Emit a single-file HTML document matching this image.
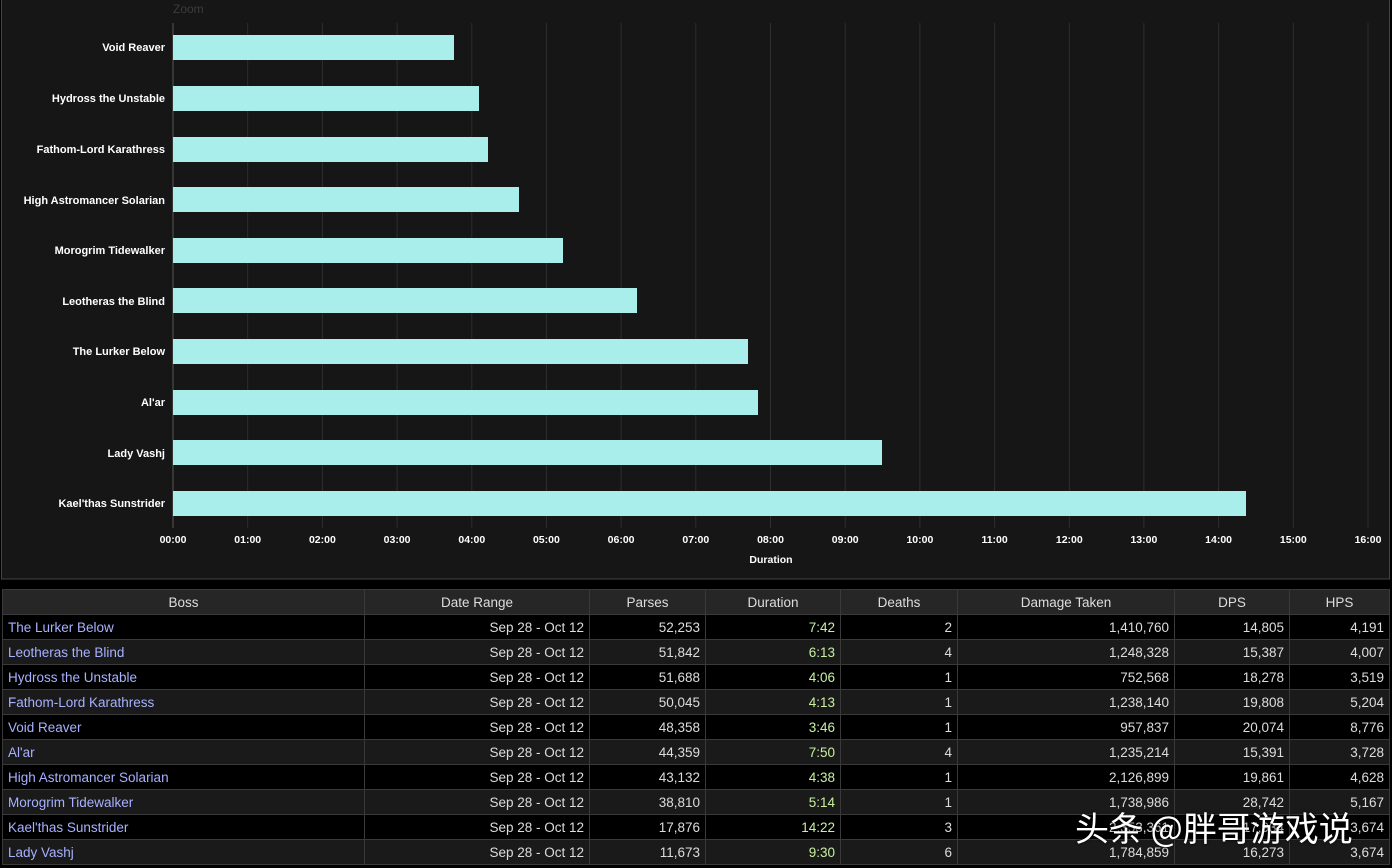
<!DOCTYPE html>
<html><head><meta charset="utf-8"><style>
body{margin:0;width:1392px;height:868px;background:#000;overflow:hidden;font-family:"Liberation Sans",Arial,sans-serif;position:relative}
.t{position:absolute;left:2px;top:589px;width:1387px;border-collapse:collapse;font-size:13.5px;color:#ddd;table-layout:fixed}
.t td,.t th{border:1px solid #3a3a3a;height:24px;padding:0 5px;text-align:right;white-space:nowrap;overflow:hidden}
.t th{background:#262626;font-weight:normal;text-align:center;color:#ddd}
.t tr:nth-child(odd) td{background:#1a1a1a}
.t td:first-child{text-align:left;color:#a7b1ff}
.t td.d{color:#c8f0a0}
.wm{position:absolute;left:1075px;top:802px;font-family:"Noto Sans CJK SC",sans-serif;font-size:34px;color:#fff;text-shadow:0 0 3px #000;font-weight:normal}
</style></head><body>
<svg width="1392" height="590" style="position:absolute;left:0;top:0" font-family="Liberation Sans, sans-serif">
<rect x="1.5" y="-2" width="1388" height="581" fill="#161616" stroke="#444"/>
<text x="173" y="13" fill="#3c3c3c" font-size="12">Zoom</text>
<g stroke="#2e2e2e">
<line x1="247.7" y1="23" x2="247.7" y2="528"/><line x1="322.4" y1="23" x2="322.4" y2="528"/><line x1="397.1" y1="23" x2="397.1" y2="528"/><line x1="471.8" y1="23" x2="471.8" y2="528"/><line x1="546.4" y1="23" x2="546.4" y2="528"/><line x1="621.1" y1="23" x2="621.1" y2="528"/><line x1="695.8" y1="23" x2="695.8" y2="528"/><line x1="770.5" y1="23" x2="770.5" y2="528"/><line x1="845.2" y1="23" x2="845.2" y2="528"/><line x1="919.9" y1="23" x2="919.9" y2="528"/><line x1="994.6" y1="23" x2="994.6" y2="528"/><line x1="1069.3" y1="23" x2="1069.3" y2="528"/><line x1="1143.9" y1="23" x2="1143.9" y2="528"/><line x1="1218.6" y1="23" x2="1218.6" y2="528"/><line x1="1293.3" y1="23" x2="1293.3" y2="528"/><line x1="1368" y1="23" x2="1368" y2="528"/>
</g>
<line x1="173" y1="23" x2="173" y2="528" stroke="#555"/>
<g fill="#aaeeec">
<rect x="173" y="35" width="281" height="25"/><rect x="173" y="86" width="306" height="25"/><rect x="173" y="137" width="315" height="25"/><rect x="173" y="187" width="346" height="25"/><rect x="173" y="238" width="390" height="25"/><rect x="173" y="288" width="464" height="25"/><rect x="173" y="339" width="575" height="25"/><rect x="173" y="390" width="585" height="25"/><rect x="173" y="440" width="709" height="25"/><rect x="173" y="491" width="1073" height="25"/>
</g>
<g fill="#fff" font-size="11" font-weight="bold" text-anchor="end">
<text x="165" y="51">Void Reaver</text><text x="165" y="102">Hydross the Unstable</text><text x="165" y="153">Fathom-Lord Karathress</text><text x="165" y="204">High Astromancer Solarian</text><text x="165" y="254">Morogrim Tidewalker</text><text x="165" y="305">Leotheras the Blind</text><text x="165" y="355">The Lurker Below</text><text x="165" y="406">Al'ar</text><text x="165" y="457">Lady Vashj</text><text x="165" y="507">Kael'thas Sunstrider</text>
</g>
<g fill="#fff" font-size="10.5" font-weight="bold" text-anchor="middle">
<text x="173" y="543">00:00</text><text x="247.7" y="543">01:00</text><text x="322.4" y="543">02:00</text><text x="397.1" y="543">03:00</text><text x="471.8" y="543">04:00</text><text x="546.4" y="543">05:00</text><text x="621.1" y="543">06:00</text><text x="695.8" y="543">07:00</text><text x="770.5" y="543">08:00</text><text x="845.2" y="543">09:00</text><text x="919.9" y="543">10:00</text><text x="994.6" y="543">11:00</text><text x="1069.3" y="543">12:00</text><text x="1143.9" y="543">13:00</text><text x="1218.6" y="543">14:00</text><text x="1293.3" y="543">15:00</text><text x="1368" y="543">16:00</text>
<text x="771" y="563">Duration</text>
</g>
</svg>
<table class="t">
<colgroup><col style="width:362px"><col style="width:225px"><col style="width:116px"><col style="width:135px"><col style="width:117px"><col style="width:217px"><col style="width:115px"><col style="width:100px"></colgroup>
<tr><th>Boss</th><th>Date Range</th><th>Parses</th><th>Duration</th><th>Deaths</th><th>Damage Taken</th><th>DPS</th><th>HPS</th></tr>
<tr><td>The Lurker Below</td><td>Sep 28 - Oct 12</td><td>52,253</td><td class="d">7:42</td><td>2</td><td>1,410,760</td><td>14,805</td><td>4,191</td></tr>
<tr><td>Leotheras the Blind</td><td>Sep 28 - Oct 12</td><td>51,842</td><td class="d">6:13</td><td>4</td><td>1,248,328</td><td>15,387</td><td>4,007</td></tr>
<tr><td>Hydross the Unstable</td><td>Sep 28 - Oct 12</td><td>51,688</td><td class="d">4:06</td><td>1</td><td>752,568</td><td>18,278</td><td>3,519</td></tr>
<tr><td>Fathom-Lord Karathress</td><td>Sep 28 - Oct 12</td><td>50,045</td><td class="d">4:13</td><td>1</td><td>1,238,140</td><td>19,808</td><td>5,204</td></tr>
<tr><td>Void Reaver</td><td>Sep 28 - Oct 12</td><td>48,358</td><td class="d">3:46</td><td>1</td><td>957,837</td><td>20,074</td><td>8,776</td></tr>
<tr><td>Al'ar</td><td>Sep 28 - Oct 12</td><td>44,359</td><td class="d">7:50</td><td>4</td><td>1,235,214</td><td>15,391</td><td>3,728</td></tr>
<tr><td>High Astromancer Solarian</td><td>Sep 28 - Oct 12</td><td>43,132</td><td class="d">4:38</td><td>1</td><td>2,126,899</td><td>19,861</td><td>4,628</td></tr>
<tr><td>Morogrim Tidewalker</td><td>Sep 28 - Oct 12</td><td>38,810</td><td class="d">5:14</td><td>1</td><td>1,738,986</td><td>28,742</td><td>5,167</td></tr>
<tr><td>Kael'thas Sunstrider</td><td>Sep 28 - Oct 12</td><td>17,876</td><td class="d">14:22</td><td>3</td><td>2,353,361</td><td>17,934</td><td>3,674</td></tr>
<tr><td>Lady Vashj</td><td>Sep 28 - Oct 12</td><td>11,673</td><td class="d">9:30</td><td>6</td><td>1,784,859</td><td>16,273</td><td>3,674</td></tr>
</table>
<div class="wm">头条 @胖哥游戏说</div>
</body></html>
